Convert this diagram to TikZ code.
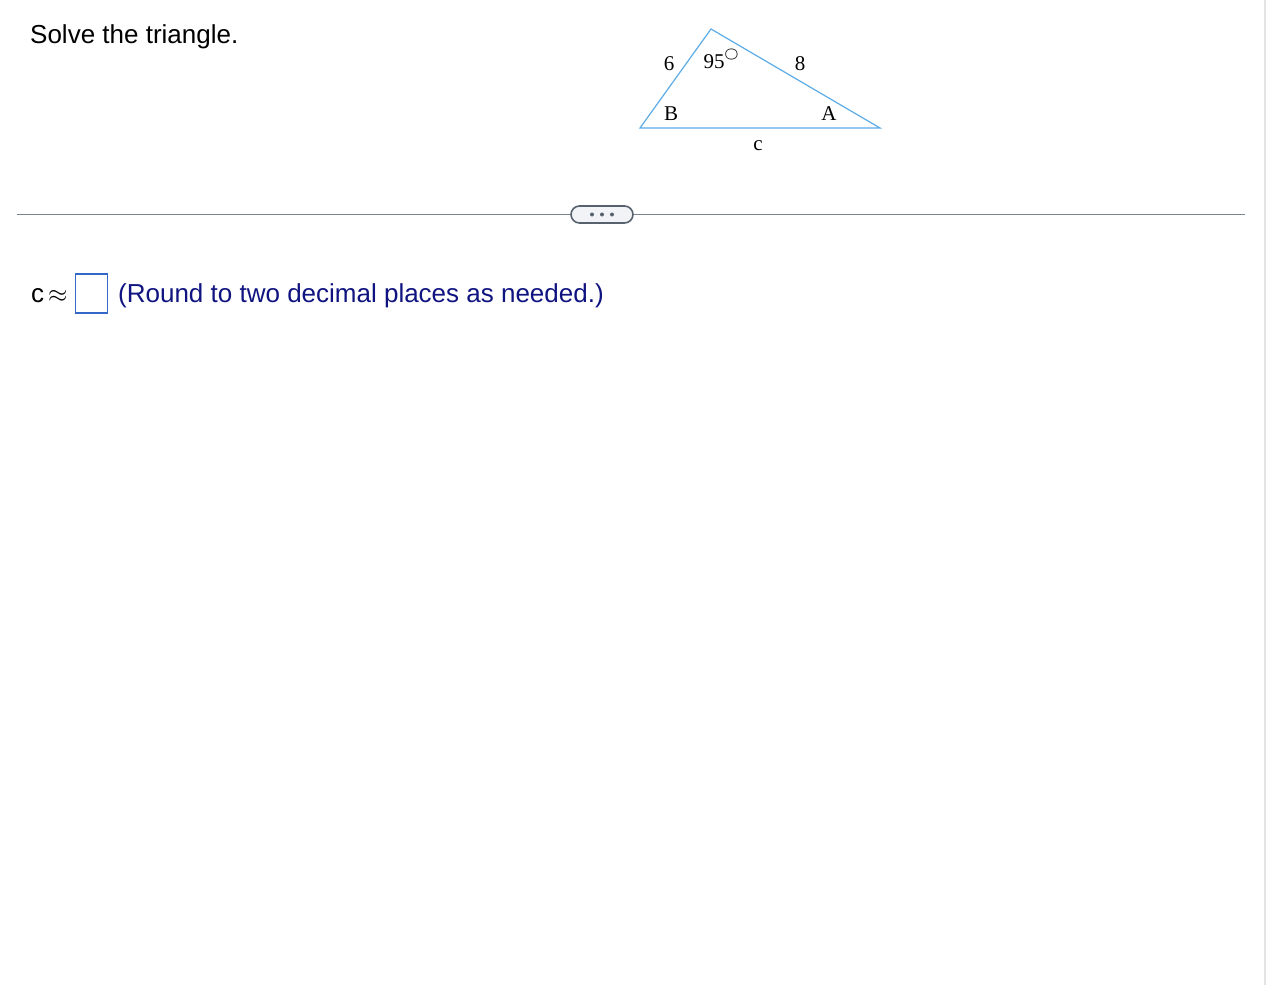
\documentclass[tikz,border=0pt]{standalone}
\usepackage{fontspec}
\setmainfont{Liberation Sans}
\newfontfamily\timesfont{Liberation Serif}
\usetikzlibrary{positioning,shapes.misc}

\definecolor{triblue}{RGB}{92,172,230}
\definecolor{navytext}{RGB}{16,20,128}
\definecolor{rulegray}{RGB}{122,132,144}
\definecolor{btnedge}{RGB}{88,98,110}
\definecolor{btnfill}{RGB}{241,243,246}
\definecolor{boxblue}{RGB}{52,104,200}
\definecolor{edgegray}{RGB}{228,228,228}

\newcommand{\degmark}{\raisebox{11pt}{\fontsize{13}{13}\selectfont\boldmath$\bigcirc$}}

\tikzset{
  qtext/.style={inner sep=0pt, anchor=base west, font=\fontsize{26}{30}\selectfont},
  trilabel/.style={inner sep=0pt, anchor=base, font=\timesfont\fontsize{21}{24}\selectfont},
  triside/.style={draw=triblue, line width=1.2pt},
}

\begin{document}
\begin{tikzpicture}[x=1pt,y=-1pt]

\useasboundingbox (0,0) rectangle (1269,985);
\fill[white] (0,0) rectangle (1269,985);

% right edge of the page
\coordinate (edgetop) at (1265,0);
\coordinate (edgebot) at (1265,985);
\draw [edgegray, line width=1.5pt] (edgetop)--(edgebot);

% Question
\draw (30,43) node [qtext] (question) {Solve the triangle.};

% Triangle
\coordinate (vB) at (640,128);
\coordinate (vC) at (711,29);
\coordinate (vA) at (880,128);
\draw [triside, line join=miter] (vB)--(vC)--(vA)--cycle;

\draw (669,70) node [trilabel] (sideSix) {6};
\draw (721,68) node [trilabel] (angleC) {95\degmark};
\draw (800,70) node [trilabel] (sideEight) {8};
\draw (671,120) node [trilabel] (angleB) {B};
\draw (829,120) node [trilabel] (angleA) {A};
\draw (758,150) node [trilabel] (sideC) {c};

% Separator
\draw (602,214.5) node [rounded rectangle, draw=btnedge, fill=btnfill, line width=1.6pt, minimum width=62pt, minimum height=17pt, inner sep=0pt] (moreBtn) {};
\coordinate (ruleleft) at (17,214.5);
\coordinate (ruleright) at (1245,214.5);
\draw [rulegray, line width=1.3pt] (ruleleft)--(moreBtn.west);
\draw [rulegray, line width=1.3pt] (moreBtn.east)--(ruleright);
\foreach \dx in {-10,0,10}
  \fill [btnedge] ([xshift=\dx pt]moreBtn.center) circle (2pt);

% Answer
\draw (31,302) node [qtext] (cApprox) {c\hspace{4pt}{\fontsize{25}{28}\selectfont$\approx$}};
\draw (91.5,293.5) node [draw=boxblue, line width=1.3pt, minimum width=32pt, minimum height=39pt, inner sep=0pt] (answerBox) {};
\draw (118,302) node [qtext, text=navytext] (roundNote) {(Round to two decimal places as needed.)};

\end{tikzpicture}
\end{document}
